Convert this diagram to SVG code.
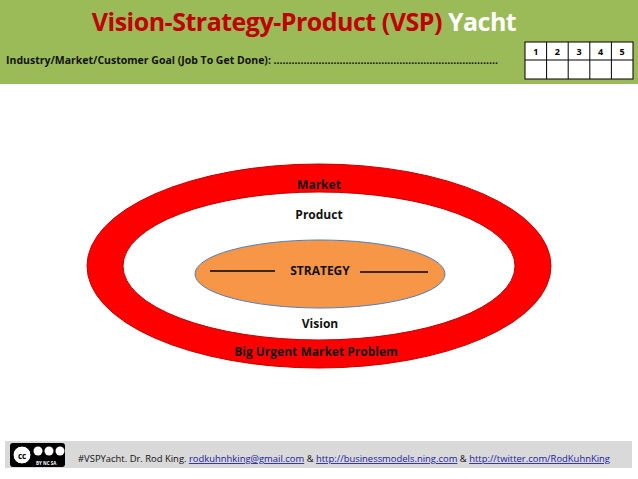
<svg xmlns="http://www.w3.org/2000/svg" width="638" height="479" viewBox="0 0 638 479">
<style>
text{font-family:"Open Sans","Liberation Sans",sans-serif;font-weight:bold;}
.lbl{font-size:12px;fill:#111;text-anchor:middle;}
.cell{fill:#fff;stroke:#000;stroke-width:1;}
.num{font-size:9px;fill:#000;text-anchor:middle;}
.link{fill:#1a1aa0;text-decoration:underline;}
</style>
<rect width="638" height="479" fill="#fff"/>
<g id="header">
<rect x="0" y="0" width="638" height="84" fill="#9bbb59"/>
<text x="304" y="31" font-size="25" text-anchor="middle" fill="#c00000" style="letter-spacing:-0.5px">Vision-Strategy-Product (VSP) <tspan fill="#fff">Yacht</tspan></text>
<text x="6" y="64" font-size="10.5" fill="#111">Industry/Market/Customer Goal (Job To Get Done): …………………………………………………………………</text>
</g>
<g id="rating-table">
<rect class="cell" x="525" y="42" width="108" height="37"/>
<line x1="525" y1="60" x2="633" y2="60" stroke="#000"/>
<line x1="546.6" y1="42" x2="546.6" y2="79" stroke="#000"/>
<line x1="568.2" y1="42" x2="568.2" y2="79" stroke="#000"/>
<line x1="589.8" y1="42" x2="589.8" y2="79" stroke="#000"/>
<line x1="611.4" y1="42" x2="611.4" y2="79" stroke="#000"/>
<text class="num" x="535.8" y="55">1</text>
<text class="num" x="557.4" y="55">2</text>
<text class="num" x="579" y="55">3</text>
<text class="num" x="600.6" y="55">4</text>
<text class="num" x="622.2" y="55">5</text>
</g>
<g id="market">
<ellipse cx="319" cy="266" rx="232" ry="102" fill="#ff0000" stroke="#c00000" stroke-width="1"/>
<text class="lbl" x="319" y="189">Market</text>
<text class="lbl" x="316" y="356">Big Urgent Market Problem</text>
</g>
<g id="product">
<ellipse cx="319" cy="266" rx="196" ry="74" fill="#fff" stroke="#c00000" stroke-width="1"/>
<text class="lbl" x="319" y="219">Product</text>
<text class="lbl" x="320" y="328">Vision</text>
</g>
<g id="strategy">
<ellipse cx="320" cy="274" rx="125" ry="34" fill="#f79646" stroke="#4f81bd" stroke-width="1"/>
<text class="lbl" x="320" y="275">STRATEGY</text>
</g>
<g id="connectors">
<line x1="210" y1="271" x2="275" y2="271" stroke="#000" stroke-width="1.5"/>
<line x1="360" y1="272" x2="428" y2="272" stroke="#000" stroke-width="1.5"/>
</g>
<g id="footer">
<rect x="5" y="441" width="627" height="27" fill="#d9d9d9"/>
<rect x="10" y="443" width="55" height="24" rx="3" fill="#000"/>
<circle cx="22" cy="455" r="9" fill="#fff" stroke="#000"/>
<text x="22" y="458.5" font-size="8" text-anchor="middle" fill="#000">cc</text>
<circle cx="38" cy="451" r="4.5" fill="#fff"/>
<circle cx="49" cy="451" r="4.5" fill="#fff"/>
<circle cx="60" cy="451" r="4.5" fill="#fff"/>
<text x="36" y="464.5" font-size="4.5" fill="#fff">BY  NC  SA</text>
<text x="78" y="462" font-size="8.5" fill="#111" textLength="532" lengthAdjust="spacingAndGlyphs" style="font-weight:normal">#VSPYacht. Dr. Rod King. <tspan class="link">rodkuhnhking@gmail.com</tspan> &amp; <tspan class="link">http://businessmodels.ning.com</tspan> &amp; <tspan class="link">http://twitter.com/RodKuhnKing</tspan></text>
</g>
</svg>
